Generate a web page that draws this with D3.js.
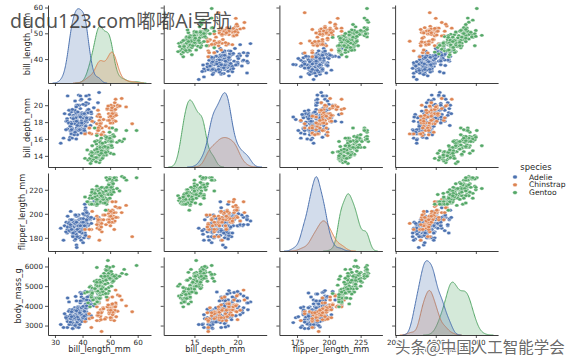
<!DOCTYPE html>
<html><head><meta charset="utf-8">
<script src="https://cdn.jsdelivr.net/npm/d3@7"></script>
<style>body{margin:0;background:#fff}svg{display:block}</style>
</head><body><svg id="c" width="573" height="360"></svg>
<script>
const variables = ["bill_length_mm","bill_depth_mm","flipper_length_mm","body_mass_g"];
const speciesNames = ["Adelie","Chinstrap","Gentoo"];
const speciesColors = ["#4c72b0","#dd8452","#55a868"];
const xTickValues = [[30,40,50,60],[15,20],[175,200,225],[2000,4000,6000]];
const yTickValues = [[40,50,60],[14,16,18,20],[180,200,220],[3000,4000,5000,6000]];

// rows: bill_length_mm, bill_depth_mm, flipper_length_mm, body_mass_g
const adelie = [
[39.1,18.7,181,3750],[39.5,17.4,186,3800],[40.3,18.0,195,3250],[36.7,19.3,193,3450],[39.3,20.6,190,3650],
[38.9,17.8,181,3625],[39.2,19.6,195,4675],[34.1,18.1,193,3475],[42.0,20.2,190,4250],[37.8,17.1,186,3300],
[37.8,17.3,180,3700],[41.1,17.6,182,3200],[38.6,21.2,191,3800],[34.6,21.1,198,4400],[36.6,17.8,185,3700],
[38.7,19.0,195,3450],[42.5,20.7,197,4500],[34.4,18.4,184,3325],[46.0,21.5,194,4200],[37.8,18.3,174,3400],
[37.7,18.7,180,3600],[35.9,19.2,189,3800],[38.2,18.1,185,3950],[38.8,17.2,180,3800],[35.3,18.9,187,3800],
[40.6,18.6,183,3550],[40.5,17.9,187,3200],[37.9,18.6,172,3150],[40.5,18.9,180,3950],[39.5,16.7,178,3250],
[37.2,18.1,178,3900],[39.5,17.8,188,3300],[40.9,18.9,184,3900],[36.4,17.0,195,3325],[39.2,21.1,196,4150],
[38.8,20.0,190,3950],[42.2,18.5,180,3550],[37.6,19.3,181,3300],[39.8,19.1,184,4650],[36.5,18.0,182,3150],
[40.8,18.4,195,3900],[36.0,18.5,186,3100],[44.1,19.7,196,4400],[37.0,16.9,185,3000],[39.6,18.8,190,4600],
[41.1,19.0,182,3425],[37.5,18.9,179,2975],[36.0,17.9,190,3450],[42.3,21.2,191,4150],[39.6,17.7,186,3500],
[40.1,18.9,188,4300],[35.0,17.9,190,3450],[42.0,19.5,200,4050],[34.5,18.1,187,2900],[41.4,18.6,191,3700],
[39.0,17.5,186,3550],[40.6,18.8,193,3800],[36.5,16.6,181,2850],[37.6,19.1,194,3750],[35.7,16.9,185,3150],
[41.3,21.1,195,4400],[37.6,17.0,185,3600],[41.1,18.2,192,4050],[36.4,17.1,184,2850],[41.6,18.0,192,3950],
[35.5,16.2,195,3350],[41.1,19.1,188,4100],[35.9,16.6,190,3050],[41.8,19.4,198,4450],[33.5,19.0,190,3600],
[39.7,18.4,190,3900],[39.6,17.2,196,3550],[45.8,18.9,197,4150],[35.5,17.5,190,3700],[42.8,18.5,195,4250],
[40.9,16.8,191,3700],[37.2,19.4,184,3900],[36.2,16.1,187,3550],[42.1,19.1,195,4000],[34.6,17.2,189,3200],
[42.9,17.6,196,4700],[36.7,18.8,187,3800],[35.1,19.4,193,4200],[37.3,17.8,191,3350],[41.3,20.3,194,3550],
[36.3,19.5,190,3800],[36.9,18.6,189,3500],[38.3,19.2,189,3950],[38.9,18.8,190,3600],[35.7,18.0,202,3550],
[41.1,18.1,205,4300],[34.0,17.1,185,3400],[39.6,18.1,186,4450],[36.2,17.3,187,3300],[40.8,18.9,208,4300],
[38.1,18.6,190,3700],[40.3,18.5,196,4350],[33.1,16.1,178,2900],[43.2,18.5,192,4100],[35.0,17.9,192,3725],
[41.0,20.0,203,4725],[37.7,16.0,183,3075],[37.8,20.0,190,4250],[37.9,18.6,193,2925],[39.7,18.9,184,3550],
[38.6,17.2,199,3750],[38.2,20.0,190,3900],[38.1,17.0,181,3175],[43.2,19.0,197,4775],[38.1,16.5,198,3825],
[45.6,20.3,191,4600],[39.7,17.7,193,3200],[42.2,19.5,197,4275],[39.6,20.7,191,3900],[42.7,18.3,196,4075],
[38.6,17.0,188,2900],[37.3,20.5,199,3775],[35.7,17.0,189,3350],[41.1,18.6,189,3325],[36.2,17.2,187,3150],
[37.7,19.8,198,3500],[40.2,17.0,176,3450],[41.4,18.5,202,3875],[35.2,15.9,186,3050],[40.6,19.0,199,4000],
[38.8,17.6,191,3275],[41.5,18.3,195,4300],[39.0,17.1,191,3050],[44.1,18.0,210,4000],[38.5,17.9,190,3325],
[43.1,19.2,197,3500],[36.8,18.5,193,3500],[37.5,18.5,199,4475],[38.1,17.6,187,3425],[41.1,17.5,190,3900],
[35.6,17.5,191,3175],[40.2,20.1,200,3975],[37.0,16.5,185,3400],[39.7,17.9,193,4250],[40.2,17.1,193,3400],
[40.6,17.2,187,3475],[32.1,15.5,188,3050],[40.7,17.0,190,3725],[37.3,16.8,192,3000],[39.0,18.7,185,3650],
[39.2,18.6,190,4250],[36.6,18.4,184,3475],[36.0,17.8,195,3450],[37.8,18.1,193,3750],[36.0,17.1,187,3700],
[41.5,18.5,201,4000]
];
const chinstrap = [
[46.5,17.9,192,3500],[50.0,19.5,196,3900],[51.3,19.2,193,3650],[45.4,18.7,188,3525],[52.7,19.8,197,3725],
[45.2,17.8,198,3950],[46.1,18.2,178,3250],[51.3,18.2,197,3750],[46.0,18.9,195,4150],[51.3,19.9,198,3700],
[46.6,17.8,193,3800],[51.7,20.3,194,3775],[47.0,17.3,185,3700],[52.0,18.1,201,4050],[45.9,17.1,190,3575],
[50.5,19.6,201,4050],[50.3,20.0,197,3300],[58.0,17.8,181,3700],[46.4,18.6,190,3450],[49.2,18.2,195,4400],
[42.4,17.3,181,3600],[48.5,17.5,191,3400],[43.2,16.6,187,2900],[50.6,19.4,193,3800],[46.7,17.9,195,3300],
[52.0,19.0,197,4150],[50.5,18.4,200,3400],[49.5,19.0,200,3800],[46.4,17.8,191,3700],[52.8,20.0,205,4550],
[40.9,16.6,187,3200],[54.2,20.8,201,4300],[42.5,16.7,187,3350],[51.0,18.8,203,4100],[49.7,18.6,195,3600],
[47.5,16.8,199,3900],[47.6,18.3,195,3850],[52.0,20.7,210,4800],[46.9,16.6,192,2700],[53.5,19.9,205,4500],
[49.0,19.5,210,3950],[46.2,17.5,187,3650],[50.9,19.1,196,3550],[45.5,17.0,196,3500],[50.9,17.9,196,3675],
[50.8,18.5,201,4450],[50.1,17.9,190,3400],[49.0,19.6,212,4300],[51.5,18.7,187,3250],[49.8,17.3,198,3675],
[48.1,16.4,199,3325],[51.4,19.0,201,3950],[45.7,17.3,193,3600],[50.7,19.7,203,4050],[42.5,17.3,187,3350],
[52.2,18.8,197,3450],[45.2,16.6,191,3250],[49.3,19.9,203,4050],[50.2,18.8,202,3800],[45.6,19.4,194,3525],
[51.9,19.5,206,3950],[46.8,16.5,189,3650],[45.7,17.0,195,3650],[55.8,19.8,207,4000],[43.5,18.1,202,3400],
[49.6,18.2,193,3775],[50.8,19.0,210,4100],[50.2,18.7,198,3775]
];
const gentoo = [
[46.1,13.2,211,4500],[50.0,16.3,230,5700],[48.7,14.1,210,4450],[50.0,15.2,218,5700],[47.6,14.5,215,5400],
[46.5,13.5,210,4550],[45.4,14.6,211,4800],[46.7,15.3,219,5200],[43.3,13.4,209,4400],[46.8,15.4,215,5150],
[40.9,13.7,214,4650],[49.0,16.1,216,5550],[45.5,13.7,214,4650],[48.4,14.6,213,5850],[45.8,14.6,210,4200],
[49.3,15.7,217,5850],[42.0,13.5,210,4150],[49.2,15.2,221,6300],[46.2,14.5,209,4800],[48.7,15.1,222,5350],
[50.2,14.3,218,5700],[45.1,14.5,215,5000],[46.5,14.5,213,4400],[46.3,15.8,215,5050],[42.9,13.1,215,5000],
[46.1,15.1,215,5100],[44.5,14.3,216,4100],[47.8,15.0,215,5650],[48.2,14.3,210,4600],[50.0,15.3,220,5550],
[47.3,15.3,222,5250],[42.8,14.2,209,4700],[45.1,14.5,207,5050],[59.6,17.0,230,6050],[49.1,14.8,220,5150],
[48.4,16.3,220,5400],[42.6,13.7,213,4950],[44.4,17.3,219,5250],[44.0,13.6,208,4350],[48.7,15.7,208,5350],
[42.7,13.7,208,3950],[49.6,16.0,225,5700],[45.3,13.7,210,4300],[49.6,15.0,216,4750],[50.5,15.9,222,5550],
[43.6,13.9,217,4900],[45.5,13.9,210,4200],[50.5,15.9,225,5400],[44.9,13.3,213,5100],[45.2,15.8,215,5300],
[46.6,14.2,210,4850],[48.5,14.1,220,5300],[45.1,14.4,210,4400],[50.1,15.0,225,5000],[46.5,14.4,217,4900],
[45.0,15.4,220,5050],[43.8,13.9,208,4300],[45.5,15.0,220,5000],[43.2,14.5,208,4450],[50.4,15.3,224,5550],
[45.3,13.8,208,4200],[46.2,14.9,221,5300],[45.7,13.9,214,4400],[54.3,15.7,231,5650],[45.8,14.2,219,4700],
[49.8,16.8,230,5700],[46.2,14.4,214,4650],[49.5,16.2,229,5800],[43.5,14.2,220,4700],[50.7,15.0,223,5550],
[47.7,15.0,216,4750],[46.4,15.6,221,5000],[48.2,15.6,221,5100],[46.5,14.8,217,5200],[46.4,15.0,216,4700],
[48.6,16.0,230,5800],[47.5,14.2,209,4600],[51.1,16.3,220,6000],[45.2,13.8,215,4750],[45.2,16.4,223,5950],
[49.1,14.5,212,4625],[52.5,15.6,221,5450],[47.4,14.6,212,4725],[50.0,15.9,224,5350],[44.9,13.8,212,4750],
[50.8,17.3,228,5600],[43.4,14.4,218,4600],[51.3,14.2,218,5300],[47.5,14.0,212,4875],[52.1,17.0,230,5550],
[47.5,15.0,218,4950],[52.2,17.1,228,5400],[45.5,14.5,212,4750],[49.5,16.1,224,5650],[44.5,14.7,214,4850],
[50.8,15.7,226,5200],[49.4,15.8,216,4925],[46.9,14.6,222,4875],[48.4,14.4,203,4625],[51.1,16.5,225,5250],
[48.5,15.0,219,4850],[55.9,17.0,228,5600],[47.2,15.5,215,4975],[49.1,15.0,228,5500],[47.3,13.8,216,4725],
[46.8,16.1,215,5500],[41.7,14.7,210,4700],[53.4,15.8,219,5500],[43.3,14.0,208,4575],[48.1,15.1,209,5500],
[50.5,15.2,216,5000],[49.8,15.9,229,5950],[43.5,15.2,213,4650],[51.5,16.3,230,5500],[46.2,14.1,217,4375],
[55.1,16.0,230,5850],[44.5,15.7,217,4875],[48.8,16.2,222,6000],[47.2,13.7,214,4925],[46.8,14.3,215,4850],
[50.4,15.7,222,5750],[45.2,14.8,212,5200],[49.9,16.1,213,5400]
];

const groups = [adelie, chinstrap, gentoo];
const N = d3.sum(groups, g => g.length);

// layout
const L0 = 48, T0 = 5, PW = 103, PH = 78, GX = 115.7, GY = 84;
const svg = d3.select("#c");
const ink = "#262626";
const tickFont = 7.2, labelFont = 8.2;
const fmt = d3.format("d");

// KDE (Scott bandwidth, cut 3, 200 points, common norm)
function kde(vals) {
  const n = vals.length, sd = d3.deviation(vals), bw = sd * Math.pow(n, -0.2);
  const lo = d3.min(vals) - 3 * bw, hi = d3.max(vals) + 3 * bw;
  const grid = d3.range(200).map(i => lo + (hi - lo) * i / 199);
  const c = 1 / (n * bw * Math.sqrt(2 * Math.PI));
  return {lo, hi, pts: grid.map(x => [x, d3.sum(vals, v => Math.exp(-0.5 * ((x - v) / bw) ** 2)) * c * n / N])};
}

const kdes = variables.map((v, i) => groups.map(g => kde(g.map(r => r[i]))));
const allVals = i => groups.flatMap(g => g.map(r => r[i]));

const xScales = variables.map((v, i) => {
  const lo = Math.min(d3.min(allVals(i)), d3.min(kdes[i], k => k.lo));
  const hi = Math.max(d3.max(allVals(i)), d3.max(kdes[i], k => k.hi));
  const p = (hi - lo) * 0.05;
  const x0 = L0 + i * GX;
  return d3.scaleLinear().domain([lo - p, hi + p]).range([x0, x0 + PW]);
});
const yScales = variables.map((v, i) => {
  const [lo, hi] = d3.extent(allVals(i));
  const p = (hi - lo) * 0.05;
  const y0 = T0 + i * GY;
  return d3.scaleLinear().domain([lo - p, hi + p]).range([y0 + PH, y0]);
});

for (let r = 0; r < 4; r++) {
  for (let c = 0; c < 4; c++) {
    const x = xScales[c], y = yScales[r];
    const g = svg.append("g");
    if (r === c) {
      const dmax = d3.max(kdes[c], k => d3.max(k.pts, p => p[1]));
      const yd = d3.scaleLinear().domain([0, dmax * 1.05]).range([T0 + r * GY + PH, T0 + r * GY]);
      const area = d3.area().x(p => x(p[0])).y0(yd(0)).y1(p => yd(p[1]));
      const line = d3.line().x(p => x(p[0])).y(p => yd(p[1]));
      [2, 1, 0].forEach(s => {
        g.append("path").attr("d", area(kdes[c][s].pts)).attr("fill", speciesColors[s]).attr("fill-opacity", 0.25);
        g.append("path").attr("d", line(kdes[c][s].pts)).attr("fill", "none").attr("stroke", speciesColors[s]).attr("stroke-width", 1);
      });
    } else {
      groups.forEach((grp, s) => {
        g.selectAll(null).data(grp).join("ellipse")
          .attr("cx", d => x(d[c])).attr("cy", d => y(d[r]))
          .attr("rx", 2.1).attr("ry", 1.7)
          .attr("fill", speciesColors[s]).attr("stroke", "#fff").attr("stroke-width", 0.4);
      });
    }
    // axes
    const xa = d3.axisBottom(x).tickValues(xTickValues[c]).tickSize(3).tickSizeOuter(0).tickPadding(1.5).tickFormat(fmt);
    if (r < 3) xa.tickFormat("");
    const gx = svg.append("g").attr("transform", `translate(0,${T0 + r * GY + PH})`).call(xa);
    const ya = d3.axisLeft(y).tickValues(yTickValues[r]).tickSize(3).tickSizeOuter(0).tickPadding(2).tickFormat(fmt);
    if (c > 0) ya.tickFormat("");
    const gy = svg.append("g").attr("transform", `translate(${L0 + c * GX},0)`).call(ya);
    [gx, gy].forEach(a => {
      a.select(".domain").attr("stroke", ink).attr("stroke-width", 0.9);
      a.selectAll(".tick line").attr("stroke", ink).attr("stroke-width", 0.8);
      a.selectAll(".tick text").attr("fill", ink).attr("font-size", tickFont).attr("font-family", "DejaVu Sans");
    });
    if (c === 0) {
      const bb = gy.node().getBBox();
      svg.append("text").attr("transform", `translate(${L0 + bb.x - 4},${T0 + r * GY + PH / 2}) rotate(-90)`)
        .attr("text-anchor", "middle").attr("font-size", labelFont).attr("font-family", "DejaVu Sans")
        .attr("fill", ink).text(variables[r]);
    }
    if (r === 3) {
      svg.append("text").attr("x", L0 + c * GX + PW / 2).attr("y", 352)
        .attr("text-anchor", "middle").attr("font-size", labelFont).attr("font-family", "DejaVu Sans")
        .attr("fill", ink).text(variables[c]);
    }
  }
}

// legend
const lg = svg.append("g");
lg.append("text").attr("x", 536).attr("y", 170).attr("text-anchor", "middle").attr("font-size", 8.4)
  .attr("font-family", "DejaVu Sans").attr("fill", ink).text("species");
speciesNames.forEach((s, i) => {
  const yy = 177 + i * 7.8;
  lg.append("ellipse").attr("cx", 515).attr("cy", yy).attr("rx", 2.3).attr("ry", 1.9)
    .attr("fill", speciesColors[i]).attr("stroke", "#fff").attr("stroke-width", 0.4);
  lg.append("text").attr("x", 529).attr("y", yy + 2.6).attr("font-size", 7.6)
    .attr("font-family", "DejaVu Sans").attr("fill", ink).text(s);
});

// watermarks
svg.append("text").attr("x", 10).attr("y", 28).attr("font-size", 19.5)
  .attr("font-family", "'Noto Sans', 'Noto Sans CJK SC', sans-serif").attr("fill", "#333").attr("fill-opacity", 0.85)
  .text("dudu123.com嘟嘟Ai导航");
svg.append("text").attr("x", 395).attr("y", 353).attr("font-size", 15.5)
  .attr("font-family", "'Noto Sans CJK SC', sans-serif").attr("fill", "#555")
  .attr("stroke", "#fff").attr("stroke-width", 2).attr("paint-order", "stroke").attr("fill-opacity", 0.9)
  .text("头条@中国人工智能学会");
</script></body></html>
